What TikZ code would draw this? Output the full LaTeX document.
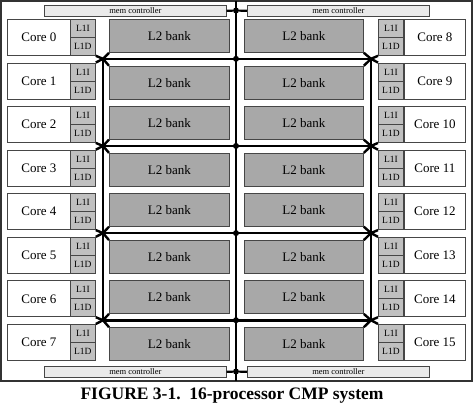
\documentclass[tikz,border=0pt]{standalone}
\usepackage{fontspec}
\setmainfont{Liberation Serif}
\definecolor{bankgray}{RGB}{168,168,168}
\definecolor{lonegray}{RGB}{192,192,192}
\definecolor{mcgray}{RGB}{234,234,234}
\definecolor{edgegray}{RGB}{70,70,70}
\begin{document}
\begin{tikzpicture}[x=1pt,y=-1pt,
  corebox/.style={draw=edgegray, fill=white, line width=0.8pt, minimum width=63pt, minimum height=36pt, inner sep=0pt, anchor=north west, font=\fontsize{13}{13}\selectfont},
  lonebox/.style={draw=edgegray, fill=lonegray, line width=0.8pt, minimum width=25pt, minimum height=18pt, inner sep=0pt, anchor=north west, font=\fontsize{9.5}{9.5}\selectfont},
  bankbox/.style={draw=edgegray, fill=bankgray, line width=0.8pt, minimum width=120pt, minimum height=33pt, inner sep=0pt, anchor=north west, font=\fontsize{13}{13}\selectfont},
  mcbox/.style={draw=edgegray, fill=mcgray, line width=0.7pt, minimum width=182pt, minimum height=11pt, inner sep=0pt, anchor=north west, font=\fontsize{8.5}{8.5}\selectfont},
  bus/.style={line width=2.6pt, black},
  vbus/.style={line width=2.2pt, black},
  arm/.style={line width=2.4pt, black},
  dot/.style={circle, fill=black, inner sep=0pt, minimum size=6pt},
  frame/.style={draw=black!80, line width=1.8pt}
]
\useasboundingbox (0,0) rectangle (474,408);
\draw[frame] (1,1) rectangle (472,381);
% cores and L1
\foreach \i in {0,...,7} {
  \pgfmathsetmacro\t{19+43.57*\i}
  \pgfmathtruncatemacro\j{\i+8}
  \node[corebox] (core\i) at (7,\t) {Core \i};
  \node[lonebox] (l1i\i) at (70,\t) {L1I};
  \node[lonebox] (l1d\i) at (70,\t+18) {L1D};
  \node[lonebox] (l1i\j) at (378,\t) {L1I};
  \node[lonebox] (l1d\j) at (378,\t+18) {L1D};
  \node[corebox, minimum width=61pt] (core\j) at (404,\t) {Core \j};
}
% L2 banks
\foreach \b/\t in {0/19, 1/65.8, 2/105.8, 3/152.9, 4/192.9, 5/240.1, 6/280.1, 7/327.2} {
  \node[bankbox] (bankL\b) at (109,\t) {L2 bank};
  \node[bankbox, minimum width=119pt] (bankR\b) at (244,\t) {L2 bank};
}
% memory controllers
\node[mcbox] (mcTL) at (44,5) {mem controller};
\node[mcbox] (mcTR) at (247,5) {mem controller};
\node[mcbox] (mcBL) at (44,366) {mem controller};
\node[mcbox] (mcBR) at (247,366) {mem controller};
% bus coordinates
\foreach \k in {0,...,3} {
  \pgfmathsetmacro\y{58.8+87.14*\k}
  \coordinate (xl\k) at (103,\y);
  \coordinate (xr\k) at (371,\y);
  \coordinate (xm\k) at (236,\y);
}
\coordinate (mtop) at (236,1);
\coordinate (mbot) at (236,381);
% middle vertical
\draw[vbus] (mtop) -- (mbot);
\node[dot] (dT) at (236,10.5) {};
\node[dot] (dB) at (236,371.5) {};
\draw[vbus] (mcTL.east) -- (dT) -- (mcTR.west);
\draw[vbus] (mcBL.east) -- (dB) -- (mcBR.west);
% side verticals
\draw[vbus] (xl0) -- (xl3);
\draw[vbus] (xr0) -- (xr3);
% horizontal buses and crossings
\foreach \k in {0,...,3} {
  \pgfmathtruncatemacro\a{2*\k}
  \pgfmathtruncatemacro\b{2*\k+1}
  \pgfmathtruncatemacro\c{2*\k+8}
  \pgfmathtruncatemacro\d{2*\k+9}
  \draw[bus] (xl\k) -- (xr\k);
  \node[dot] (dm\k) at (xm\k) {};
  \draw[arm] (l1d\a.south east) -- (xl\k) -- (bankL\b.north west);
  \draw[arm] (l1i\b.north east) -- (xl\k) -- (bankL\a.south west);
  \draw[arm] (l1d\c.south west) -- (xr\k) -- (bankR\b.north east);
  \draw[arm] (l1i\d.north west) -- (xr\k) -- (bankR\a.south east);
}
\node[font=\bfseries\fontsize{17.5}{17.5}\selectfont] (cap) at (232,396) {FIGURE 3-1.\ \ 16-processor CMP system};
\end{tikzpicture}
\end{document}
